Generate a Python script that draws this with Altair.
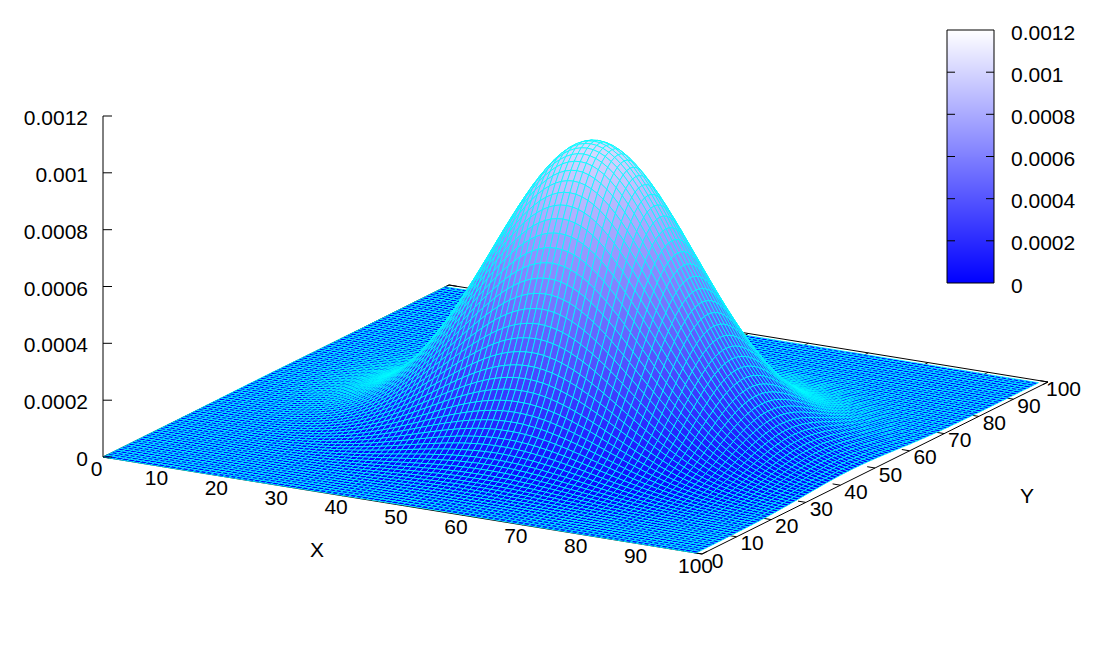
import altair as alt

# Height profiles along X (0..99) and Y (0..99), estimated from the picture's
# silhouette and edges. The surface is approximated as PEAK * PROFILE_X[i] * PROFILE_Y[j].
PEAK = 0.00103
PROFILE_X = [0.0015,0.0018,0.0023,0.0029,0.0036,0.0044,0.0055,0.0067,0.0082,0.0100,0.0122,0.0147,0.0177,0.0212,0.0253,0.0301,0.0357,0.0421,0.0494,0.0577,0.0672,0.0779,0.0900,0.1035,0.1184,0.1350,0.1534,0.1734,0.1953,0.2190,0.2445,0.2720,0.3012,0.3322,0.3648,0.3990,0.4346,0.4714,0.5092,0.5477,0.5866,0.6258,0.6647,0.7034,0.7408,0.7773,0.8119,0.8447,0.8752,0.9029,0.9277,0.9493,0.9672,0.9814,0.9917,0.9979,1.0000,
0.9979,0.9917,0.9814,0.9672,0.9493,0.9277,0.9029,0.8752,0.8447,0.8119,0.7773,0.7408,0.7034,0.6647,0.6258,0.5866,0.5477,0.5092,0.4714,0.4346,0.3990,0.3648,0.3322,0.3012,0.2720,0.2445,0.2190,0.1953,0.1734,0.1534,0.1350,0.1184,0.1035,0.0900,0.0779,0.0672,0.0577,0.0494,0.0421,0.0357,0.0301,0.0253,0.0212]
PROFILE_Y = [0.0025,0.0033,0.0042,0.0054,0.0069,0.0088,0.0111,0.0140,0.0174,0.0216,0.0267,0.0327,0.0399,0.0483,0.0582,0.0698,0.0831,0.0983,0.1157,0.1353,0.1574,0.1819,0.2091,0.2388,0.2712,0.3063,0.3437,0.3834,0.4253,0.4689,0.5139,0.5600,0.6065,0.6531,0.6989,0.7436,0.7868,0.8274,0.8650,0.8990,0.9287,0.9537,0.9737,0.9882,0.9970,1.0000,
0.9970,0.9882,0.9737,0.9537,0.9287,0.8990,0.8650,0.8274,0.7868,0.7436,0.6989,0.6531,0.6065,0.5600,0.5139,0.4689,0.4253,0.3834,0.3437,0.3063,0.2712,0.2388,0.2091,0.1819,0.1574,0.1353,0.1157,0.0983,0.0831,0.0698,0.0582,0.0483,0.0399,0.0327,0.0267,0.0216,0.0174,0.0140,0.0111,0.0088,0.0069,0.0054,0.0042,0.0033,0.0025,0.0019,0.0015,0.0011,0.0008,0.0006,0.0005,0.0003,0.0002,0.0002]
XY_TICKS = [0, 10, 20, 30, 40, 50, 60, 70, 80, 90, 100]
Z_TICKS = [0, 0.0002, 0.0004, 0.0006, 0.0008, 0.001, 0.0012]
Z_LABELS = ["0", "0.0002", "0.0004", "0.0006", "0.0008", "0.001", "0.0012"]
COLORS = ["#0000ff", "#ffffff"]
FONT = "Liberation Sans"
FS = 21

OX, OY = 95.0, 449.0           # plot-group origin of (0,0,0)
def proj(x, y, z=0.0):
    return [round(OX + 5.99 * x + 3.46 * y, 1),
            round(OY + 0.97 * x - 1.72 * y - z * 284167, 1)]

# colourbox geometry
CB_L, CB_R, CB_T, CB_B = 939, 986, 22, 275
def cb_y(z):
    return CB_B - (CB_B - CB_T) * z / 0.0012

def feat(kind, coords, **props):
    return {"type": "Feature", "geometry": {"type": kind, "coordinates": coords}, "properties": props}

cells = []
for j in range(98, -1, -1):
    for i in range(0, 99):
        zs = [PEAK * PROFILE_X[a] * PROFILE_Y[b] for a, b in ((i, j), (i + 1, j), (i + 1, j + 1), (i, j + 1))]
        ring = [proj(i, j, zs[0]), proj(i + 1, j, zs[1]), proj(i + 1, j + 1, zs[2]), proj(i, j + 1, zs[3])]
        ring.append(ring[0])
        cells.append(feat("Polygon", [ring], z=round(sum(zs) / 4, 7)))

bands = []
for k in range(CB_B - CB_T):
    y0 = CB_B - k
    y1 = CB_B - k - 1.6 if k < CB_B - CB_T - 1 else CB_T
    ring = [[CB_L, y0], [CB_R, y0], [CB_R, y1], [CB_L, y1], [CB_L, y0]]
    bands.append(feat("Polygon", [ring], z=(k + 0.5) / (CB_B - CB_T) * 0.0012))

under = [feat("LineString", [proj(0, 0), proj(100, 0), proj(100, 100), proj(0, 100), proj(0, 0)])]
for t in XY_TICKS:
    under.append(feat("LineString", [proj(t, 0), proj(t, 1.5)]))
    under.append(feat("LineString", [proj(t, 100), proj(t, 98.5)]))
    under.append(feat("LineString", [proj(0, t), proj(1.3, t)]))
    under.append(feat("LineString", [proj(100, t), proj(98.7, t)]))

over = [feat("LineString", [proj(0, 0, 0), proj(0, 0, 0.0012)])]
over.append(feat("LineString", [[CB_L, CB_T], [CB_R, CB_T], [CB_R, CB_B], [CB_L, CB_B], [CB_L, CB_T]]))
for z in Z_TICKS:
    a = proj(0, 0, z)
    over.append(feat("LineString", [a, [a[0] + 9, a[1]]]))
for z in Z_TICKS[1:-1]:
    y = round(cb_y(z), 1)
    over.append(feat("LineString", [[CB_L, y], [CB_L + 8, y]]))
    over.append(feat("LineString", [[CB_R - 8, y], [CB_R, y]]))

labels = []
for t in XY_TICKS:
    p = proj(t, 0)
    labels.append({"lon": p[0] - 6.5, "lat": p[1] + 12.5, "s": str(t), "a": "center"})
    p = proj(100, t)
    labels.append({"lon": p[0] + 15.5, "lat": p[1] + 7.5, "s": str(t), "a": "center"})
for z, s in zip(Z_TICKS, Z_LABELS):
    p = proj(0, 0, z)
    labels.append({"lon": p[0] - 15, "lat": p[1] + 3, "s": s, "a": "right"})
    labels.append({"lon": CB_R + 17, "lat": cb_y(z) + 3.5, "s": s, "a": "left"})
labels.append({"lon": 309, "lat": 543, "s": "X", "a": "center"})
labels.append({"lon": 1019, "lat": 489, "s": "Y", "a": "center"})

prj = dict(type="identity", scale=1, translate=[0, 0])
fill_scale = alt.Scale(domain=[0, 0.0012], range=COLORS, interpolate="rgb")

under_l = alt.Chart(alt.Data(values=under)).mark_geoshape(filled=False, stroke="black", strokeWidth=1).project(**prj)
surf = alt.Chart(alt.Data(values=cells)).mark_geoshape(stroke="#00ffff", strokeWidth=0.8).encode(
    fill=alt.Fill("properties.z:Q", scale=fill_scale, legend=None)
).project(**prj)
bar = alt.Chart(alt.Data(values=bands)).mark_geoshape(strokeWidth=0).encode(
    fill=alt.Fill("properties.z:Q", scale=fill_scale, legend=None)
).project(**prj)
over_l = alt.Chart(alt.Data(values=over)).mark_geoshape(filled=False, stroke="black", strokeWidth=1).project(**prj)

def text_layer(align):
    rows = [r for r in labels if r["a"] == align]
    return alt.Chart(alt.Data(values=rows)).mark_text(
        font=FONT, fontSize=FS, color="black", align=align, baseline="middle"
    ).encode(longitude="lon:Q", latitude="lat:Q", text="s:N").project(**prj)

chart = alt.layer(under_l, surf, bar, over_l, text_layer("center"), text_layer("right"), text_layer("left")).properties(
    width=1088, height=639, padding=0, autosize=alt.AutoSizeParams(type="none"),
    background="white"
).configure_view(stroke=None)

chart.save("out.html", embed_options={"renderer": "svg", "actions": False})
